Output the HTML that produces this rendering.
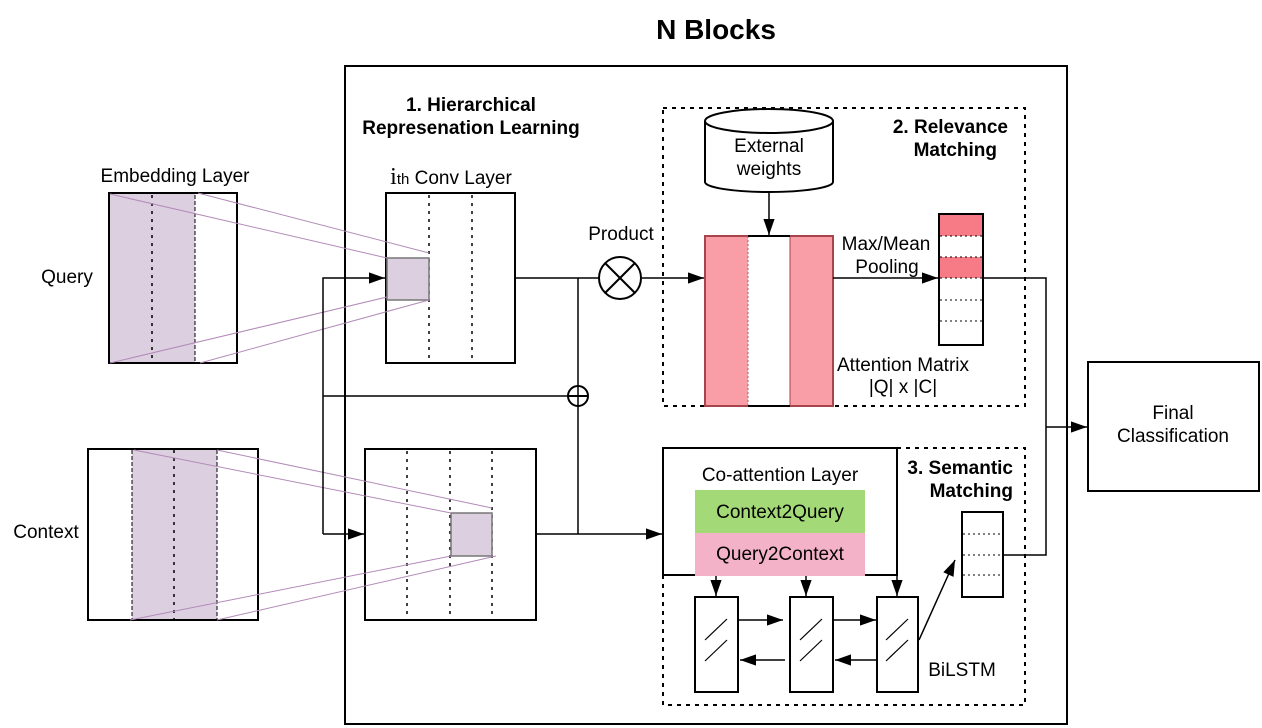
<!DOCTYPE html>
<html><head><meta charset="utf-8"><style>
html,body{margin:0;padding:0;background:#fff;}
svg{display:block;font-family:"Liberation Sans",Arial,sans-serif;}
</style></head><body>
<svg width="1262" height="728" viewBox="0 0 1262 728" xmlns="http://www.w3.org/2000/svg">
<defs>
<marker id="b" viewBox="0 0 10 10" refX="10" refY="5" markerWidth="18" markerHeight="16" markerUnits="userSpaceOnUse" orient="auto"><path d="M0,1.5 L10,5 L0,8.5 z" fill="#000"/></marker>
</defs>
<text x="716" y="39" font-size="28" font-weight="bold" text-anchor="middle">N Blocks</text>
<rect x="345" y="66" width="722" height="658" fill="none" stroke="#000" stroke-width="2"/>

<text x="471" y="111" font-size="19" font-weight="bold" text-anchor="middle">1. Hierarchical</text>
<text x="471" y="134" font-size="19" font-weight="bold" text-anchor="middle">Represenation Learning</text>

<text x="175" y="182" font-size="19" text-anchor="middle">Embedding Layer</text>
<rect x="109" y="193" width="86" height="170" fill="#dccfe0"/>
<rect x="109" y="193" width="128" height="170" fill="none" stroke="#000" stroke-width="2"/>
<line x1="152" y1="195" x2="152" y2="362" stroke="#000" stroke-dasharray="3,5" stroke-width="1.5"/>
<line x1="195" y1="195" x2="195" y2="362" stroke="#000" stroke-dasharray="4,2" stroke-width="1"/>
<text x="67" y="283" font-size="19" text-anchor="middle">Query</text>

<text x="451" y="184" font-size="19" text-anchor="middle"><tspan font-size="24" font-family="Liberation Serif,serif">i</tspan><tspan font-size="15">th</tspan> Conv Layer</text>
<rect x="386" y="193" width="129" height="170" fill="#fff" stroke="#000" stroke-width="2"/>
<line x1="429" y1="195" x2="429" y2="362" stroke="#000" stroke-dasharray="3,5" stroke-width="1.5"/>
<line x1="472" y1="195" x2="472" y2="362" stroke="#000" stroke-dasharray="3,5" stroke-width="1.5"/>
<rect x="387" y="258" width="42" height="42" fill="#dccfe0" stroke="#777" stroke-width="1.5"/>
<g stroke="#b28bb8" stroke-width="1">
<line x1="110" y1="194" x2="387" y2="258"/><line x1="198" y1="193" x2="429" y2="253"/>
<line x1="110" y1="363" x2="387" y2="297"/><line x1="200" y1="363" x2="429" y2="300"/>
</g>

<rect x="132" y="449" width="85" height="171" fill="#dccfe0"/>
<rect x="88" y="449" width="170" height="171" fill="none" stroke="#000" stroke-width="2"/>
<line x1="132" y1="450" x2="132" y2="619" stroke="#000" stroke-dasharray="4,2" stroke-width="1"/>
<line x1="174" y1="450" x2="174" y2="619" stroke="#000" stroke-dasharray="3,5" stroke-width="1.5"/>
<line x1="217" y1="450" x2="217" y2="619" stroke="#000" stroke-dasharray="4,2" stroke-width="1"/>
<text x="46" y="538" font-size="19" text-anchor="middle">Context</text>

<rect x="365" y="449" width="171" height="171" fill="#fff" stroke="#000" stroke-width="2"/>
<line x1="407" y1="451" x2="407" y2="619" stroke="#000" stroke-dasharray="3,5" stroke-width="1.5"/>
<line x1="450" y1="451" x2="450" y2="619" stroke="#000" stroke-dasharray="3,5" stroke-width="1.5"/>
<line x1="492" y1="451" x2="492" y2="619" stroke="#000" stroke-dasharray="3,5" stroke-width="1.5"/>
<rect x="451" y="513" width="41" height="43" fill="#dccfe0" stroke="#777" stroke-width="1.5"/>
<g stroke="#b28bb8" stroke-width="1">
<line x1="134" y1="450" x2="451" y2="513"/><line x1="217" y1="450" x2="492" y2="508"/>
<line x1="130" y1="620" x2="451" y2="556"/><line x1="217" y1="620" x2="496" y2="556"/>
</g>

<g stroke="#000" stroke-width="1.5" fill="none">
<polyline points="323,534 323,278 385,278" marker-end="url(#b)"/>
<line x1="323" y1="534" x2="364" y2="534" marker-end="url(#b)"/>
<line x1="323" y1="396" x2="568" y2="396"/>
<line x1="515" y1="278" x2="599" y2="278"/>
<line x1="578" y1="278" x2="578" y2="534"/>
<line x1="536" y1="534" x2="662" y2="534" marker-end="url(#b)"/>
<line x1="642" y1="278" x2="704" y2="278" marker-end="url(#b)"/>
</g>
<circle cx="578" cy="396" r="10" fill="none" stroke="#000" stroke-width="2"/>
<line x1="568" y1="396" x2="588" y2="396" stroke="#000" stroke-width="2"/>
<circle cx="620" cy="278" r="21" fill="#fff" stroke="#000" stroke-width="2"/>
<line x1="605" y1="263" x2="635" y2="293" stroke="#000" stroke-width="2"/>
<line x1="635" y1="263" x2="605" y2="293" stroke="#000" stroke-width="2"/>
<text x="621" y="240" font-size="19" text-anchor="middle">Product</text>

<rect x="663" y="108" width="362" height="298" fill="none" stroke="#000" stroke-width="2" stroke-dasharray="4,5"/>
<text x="1008" y="133" font-size="19" font-weight="bold" text-anchor="end">2. Relevance</text>
<text x="997" y="156" font-size="19" font-weight="bold" text-anchor="end">Matching</text>
<path d="M705,121 L705,182 A64,10 0 0 0 833,182 L833,121" fill="#fff" stroke="#000" stroke-width="2"/>
<ellipse cx="769" cy="121" rx="64" ry="12" fill="#fff" stroke="#000" stroke-width="2"/>
<text x="769" y="152" font-size="19" text-anchor="middle">External</text>
<text x="769" y="175" font-size="19" text-anchor="middle">weights</text>
<line x1="769" y1="192" x2="769" y2="235" stroke="#000" stroke-width="1.5" marker-end="url(#b)"/>
<rect x="705" y="236" width="43" height="170" fill="#f99ea6"/>
<rect x="790" y="236" width="43" height="170" fill="#f99ea6"/>
<rect x="705" y="236" width="128" height="170" fill="none" stroke="#a8444c" stroke-width="2"/>
<line x1="748" y1="236" x2="748" y2="406" stroke="#c05a60" stroke-dasharray="2,2"/>
<line x1="790" y1="236" x2="790" y2="406" stroke="#a8444c"/>
<line x1="748" y1="236" x2="790" y2="236" stroke="#000" stroke-width="2"/>
<line x1="748" y1="406" x2="790" y2="406" stroke="#000" stroke-width="2"/>
<text x="886" y="250" font-size="19" text-anchor="middle">Max/Mean</text>
<text x="887" y="273" font-size="19" text-anchor="middle">Pooling</text>
<line x1="833" y1="278" x2="938" y2="278" stroke="#000" stroke-width="1.5" marker-end="url(#b)"/>
<rect x="939" y="214" width="44" height="22" fill="#f77b86"/>
<rect x="939" y="257" width="44" height="21" fill="#f77b86"/>
<rect x="939" y="214" width="44" height="131" fill="none" stroke="#000" stroke-width="2"/>
<g stroke="#000" stroke-dasharray="2,3" stroke-width="1">
<line x1="940" y1="236" x2="982" y2="236"/><line x1="940" y1="257" x2="982" y2="257"/>
<line x1="940" y1="278" x2="982" y2="278"/><line x1="940" y1="300" x2="982" y2="300"/>
<line x1="940" y1="321" x2="982" y2="321"/>
</g>
<text x="903" y="371" font-size="19" text-anchor="middle">Attention Matrix</text>
<text x="903" y="393" font-size="19" text-anchor="middle">|Q| x |C|</text>

<g stroke="#000" stroke-width="1.5" fill="none">
<polyline points="983,278 1046,278 1046,555 1003,555"/>
<line x1="1046" y1="427" x2="1087" y2="427" marker-end="url(#b)"/>
</g>
<rect x="1088" y="362" width="171" height="129" fill="#fff" stroke="#000" stroke-width="2"/>
<text x="1173" y="419" font-size="19" text-anchor="middle">Final</text>
<text x="1173" y="442" font-size="19" text-anchor="middle">Classification</text>

<rect x="663" y="448" width="362" height="257" fill="none" stroke="#000" stroke-width="2" stroke-dasharray="4,5"/>
<rect x="663" y="448" width="234" height="127" fill="#fff" stroke="#000" stroke-width="2"/>
<text x="780" y="481" font-size="19" text-anchor="middle">Co-attention Layer</text>
<rect x="695" y="490" width="170" height="43" fill="#a3d977"/>
<rect x="695" y="533" width="170" height="43" fill="#f4b2c8"/>
<text x="780" y="518" font-size="19" text-anchor="middle">Context2Query</text>
<text x="780" y="560" font-size="19" text-anchor="middle">Query2Context</text>
<text x="1013" y="474" font-size="19" font-weight="bold" text-anchor="end">3. Semantic</text>
<text x="1013" y="497" font-size="19" font-weight="bold" text-anchor="end">Matching</text>
<g stroke="#000" stroke-width="1.5" fill="none">
<line x1="716" y1="576" x2="716" y2="596" marker-end="url(#b)"/>
<line x1="806" y1="576" x2="806" y2="596" marker-end="url(#b)"/>
<line x1="897" y1="576" x2="897" y2="596" marker-end="url(#b)"/>
<line x1="738" y1="620" x2="783" y2="620" marker-end="url(#b)"/>
<line x1="833" y1="620" x2="876" y2="620" marker-end="url(#b)"/>
<line x1="785" y1="660" x2="740" y2="660" marker-end="url(#b)"/>
<line x1="876" y1="660" x2="835" y2="660" marker-end="url(#b)"/>
<line x1="919" y1="640" x2="955" y2="560" marker-end="url(#b)"/>
</g>
<g fill="#fff" stroke="#000" stroke-width="2">
<rect x="695" y="597" width="43" height="95"/>
<rect x="790" y="597" width="43" height="95"/>
<rect x="877" y="597" width="41" height="95"/>
</g>
<g stroke="#000" stroke-width="1.2">
<line x1="705" y1="640" x2="727" y2="619"/><line x1="705" y1="661" x2="727" y2="640"/>
<line x1="800" y1="640" x2="822" y2="619"/><line x1="800" y1="661" x2="822" y2="640"/>
<line x1="886" y1="640" x2="908" y2="619"/><line x1="886" y1="661" x2="908" y2="640"/>
</g>
<text x="962" y="676" font-size="19" text-anchor="middle">BiLSTM</text>
<rect x="962" y="512" width="41" height="85" fill="#fff" stroke="#000" stroke-width="2"/>
<g stroke="#000" stroke-dasharray="2,3" stroke-width="1">
<line x1="963" y1="534" x2="1002" y2="534"/><line x1="963" y1="555" x2="1002" y2="555"/><line x1="963" y1="575" x2="1002" y2="575"/>
</g>
</svg>
</body></html>
